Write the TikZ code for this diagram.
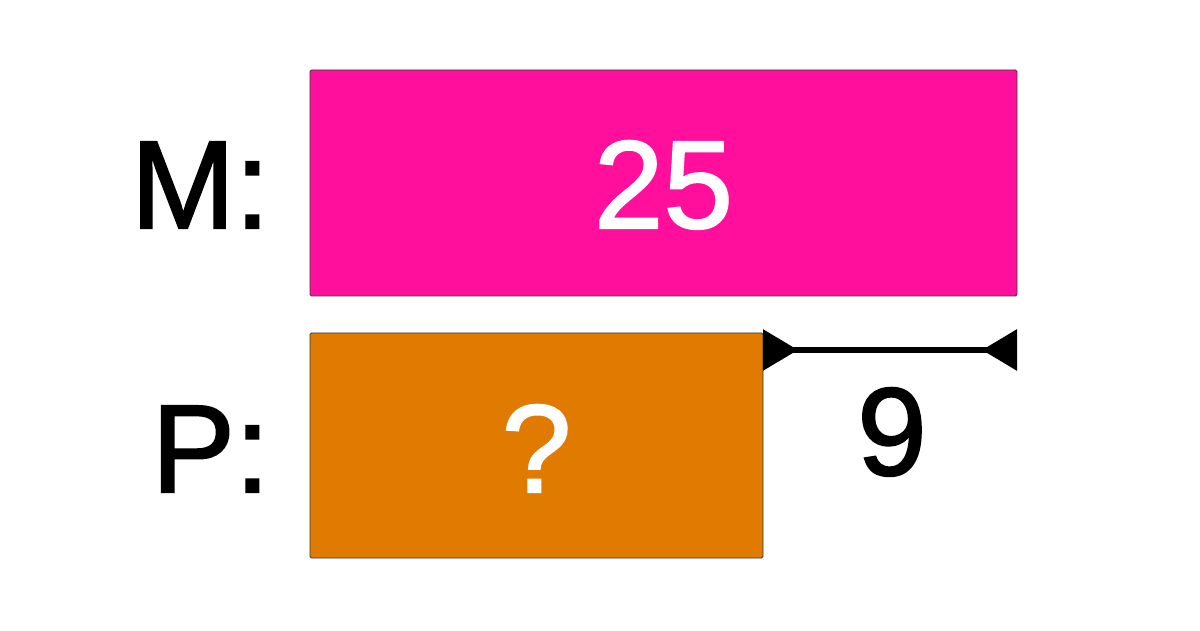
\documentclass[tikz,border=0pt]{standalone}
\usepackage{fontspec}
\setmainfont{Liberation Sans}
\newfontfamily\labelfont[FakeBold=1.6]{Liberation Sans}
\usetikzlibrary{arrows.meta}
\definecolor{barpink}{HTML}{FF0F9B}
\definecolor{barorange}{HTML}{E07A00}
\definecolor{barline}{HTML}{3A3A3A}
\tikzset{
  bar/.style={draw=barline, line width=0.8pt, rounded corners=1.5pt},
  big/.style={font=\labelfont\fontsize{125}{125}\selectfont, inner sep=0pt},
  gap/.style={line width=6pt, {Triangle[reversed,length=35pt,width=40pt]}-{Triangle[reversed,length=35pt,width=40pt]}}
}
\begin{document}
\begin{tikzpicture}[x=1pt,y=1pt]
\useasboundingbox (0,0) rectangle (1200,630);
\fill[white] (0,0) rectangle (1200,630);
% bars
\filldraw[bar, fill=barpink] (310,560) rectangle (1017,334);
\filldraw[bar, fill=barorange] (310,297) rectangle (763,72);
% labels
\node[big, anchor=base east] (mlab) at (270,402) {M:};
\node[big, anchor=base east] (plab) at (270,138) {P:};
\node[big, anchor=base, text=white] (mval) at (663.5,402) {25};
\node[big, anchor=base, text=white] (pval) at (536.5,138) {?};
\node[big, anchor=base] (dval) at (892,155) {9};
% difference arrow
\coordinate (a1) at (763,280);
\coordinate (a2) at (1017,280);
\draw[gap] (a1) -- (a2);
\end{tikzpicture}
\end{document}
